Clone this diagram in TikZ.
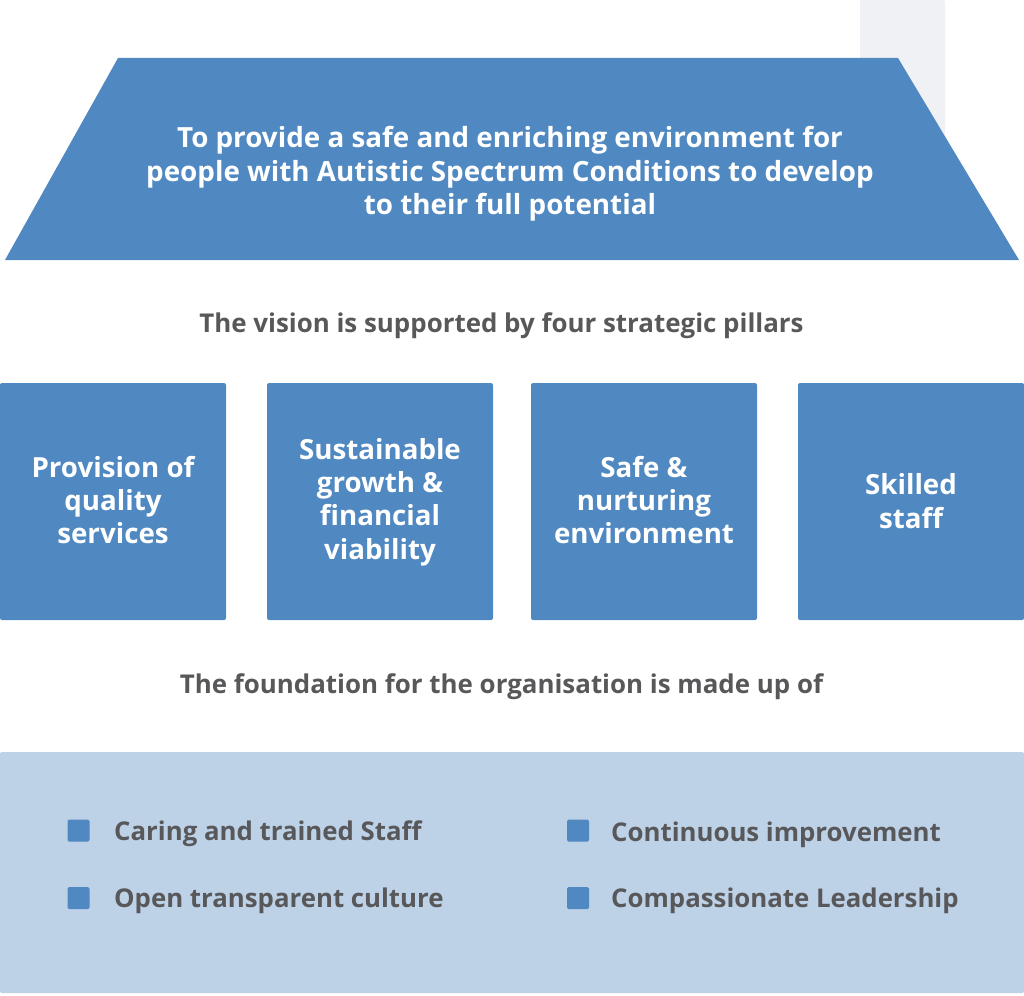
\documentclass[tikz,border=0pt]{standalone}
\usepackage{fontspec}
\setmainfont{Open Sans}
\definecolor{mainblue}{HTML}{5088C1}
\definecolor{chimneygray}{HTML}{EFF1F4}
\definecolor{foundblue}{HTML}{BDD1E7}
\definecolor{textgray}{HTML}{58585A}
\tikzset{
  pillar/.style={fill=mainblue, rounded corners=2pt, minimum width=226pt, minimum height=237pt, inner sep=0pt},
  pillartext/.style={text=white, font=\fontsize{27.7}{33.4}\selectfont\bfseries, align=center},
  rooftext/.style={text=white, font=\fontsize{27.8}{33.5}\selectfont\bfseries, align=center},
  heading/.style={text=textgray, font=\fontsize{25.9}{30}\selectfont\bfseries, anchor=base},
  bullet/.style={fill=mainblue, rounded corners=1.5pt, minimum width=22pt, minimum height=22pt, inner sep=0pt},
  bullettext/.style={text=textgray, font=\fontsize{25.8}{32}\selectfont\bfseries, anchor=base west, inner sep=0pt},
}
\begin{document}
\begin{tikzpicture}[x=1pt,y=-1pt]
\useasboundingbox (0,0) rectangle (1024,995);
% chimney
\fill[chimneygray, rounded corners=2pt] (860,160) -- (860,0) -- (945,0) -- (945,160) -- cycle;
% roof
\fill[mainblue] (118,58) -- (898,58) -- (1019,260) -- (5,260) -- cycle;
\node[rooftext] (vision) at (510,174) {To provide a safe and enriching environment for\\people with Autistic Spectrum Conditions to develop\\to their full potential};
% heading 1
\node[heading] (h1) at (501.5,332) {The vision is supported by four strategic pillars};
% pillars
\node[pillar] (p1) at (113,501.5) {};
\node[pillar] (p2) at (380,501.5) {};
\node[pillar] (p3) at (644,501.5) {};
\node[pillar] (p4) at (911,501.5) {};
\node[pillartext] (t1) at ([yshift=1.5pt]p1.center) {Provision of\\quality\\services};
\node[pillartext] (t2) at ([yshift=-0.5pt]p2.center) {Sustainable\\growth \&\\financial\\viability};
\node[pillartext] (t3) at ([yshift=1.5pt]p3.center) {Safe \&\\nurturing\\environment};
\node[pillartext] (t4) at ([yshift=0.5pt]p4.center) {Skilled\\staff};
% heading 2
\node[heading] (h2) at (501.5,693) {The foundation for the organisation is made up of};
% foundation
\fill[foundblue, rounded corners=2pt] (0,752) rectangle (1024,993);
\node[bullet] (b1) at (78.5,830.5) {};
\node[bullet] (b2) at (78.5,898) {};
\node[bullet] (b3) at (578,830.5) {};
\node[bullet] (b4) at (578,898) {};
\node[bullettext] (f1) at (114,840) {Caring and trained Staff};
\node[bullettext] (f2) at (114,907) {Open transparent culture};
\node[bullettext] (f3) at (611,841) {Continuous improvement};
\node[bullettext] (f4) at (611,907) {Compassionate Leadership};
\end{tikzpicture}
\end{document}
